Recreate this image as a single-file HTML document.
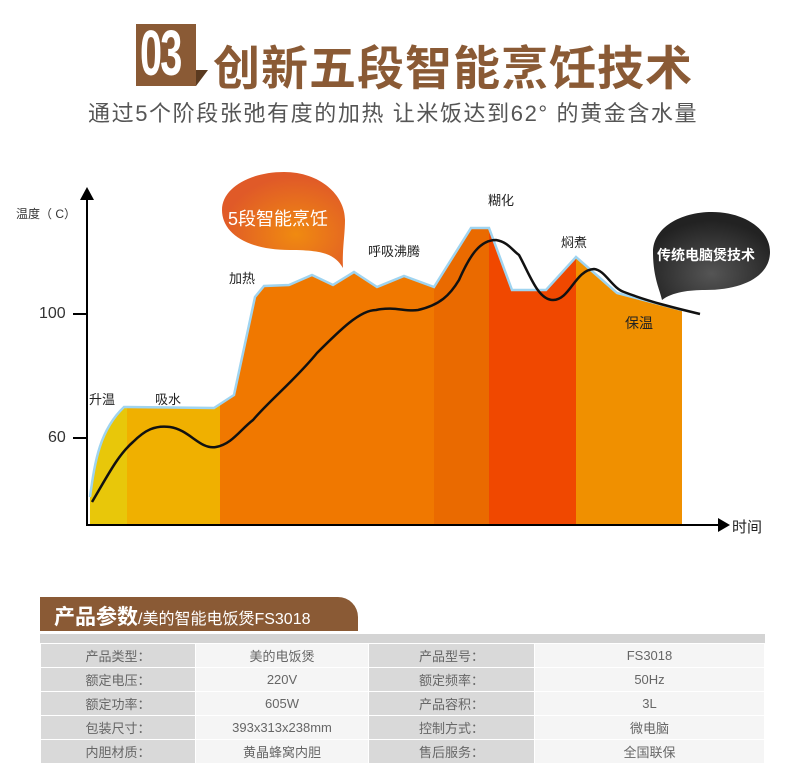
<!DOCTYPE html>
<html><head><meta charset="utf-8"><style>
body{margin:0;width:790px;height:781px;background:#fff;overflow:hidden;font-family:"Liberation Sans","Noto Sans CJK SC",sans-serif;position:relative}
.a{position:absolute;white-space:nowrap}
table{position:absolute;left:40px;top:643px;width:725px;border-collapse:collapse;table-layout:fixed}
td{height:23px;padding:0;text-align:center;font-size:13px;color:#666;border:1px solid #fff}
td.l{background:#d9d9d9}td.v{background:#f5f5f5}
</style></head><body>
<div class="a" style="left:136px;top:24px;width:60px;height:62px;background:#8a5a35"></div>
<div class="a" style="left:140px;top:18px;font-size:64px;line-height:70px;font-weight:bold;color:#fff;letter-spacing:-3px;transform:scaleX(0.62);transform-origin:left">03</div>
<div class="a" style="left:196px;top:70px;width:0;height:0;border-top:16px solid #5a3a20;border-right:12px solid transparent"></div>
<div class="a" style="left:213px;top:30px;font-size:47px;font-weight:bold;color:#8a5a35;letter-spacing:1px">创新五段智能烹饪技术</div>
<div class="a" style="left:88px;top:96px;font-size:22px;color:#555;letter-spacing:1.6px">通过5个阶段张弛有度的加热 让米饭达到62° 的黄金含水量</div>

<svg class="a" style="left:0;top:0" width="790" height="600">
<defs>
<radialGradient id="g1" cx="0.6" cy="0.65" r="0.6"><stop offset="0" stop-color="#f08a10"/><stop offset="1" stop-color="#e05a28"/></radialGradient>
<radialGradient id="g2" cx="0.5" cy="0.7" r="0.6"><stop offset="0" stop-color="#555"/><stop offset="1" stop-color="#222"/></radialGradient>
<clipPath id="c"><path d="M90,497 C95,460 100,430 124,407 L214,408 L234,395 L255,297 L264,286 L289,285 L312,275 L333,285 L354,272 L377,287 L404,276 L434,287 L471,228 L489,228 L512,290 L546,290 L576,257 L617,293 L682,310 L682,525 L90,525 Z"/></clipPath>
</defs>
<g clip-path="url(#c)">
<rect x="88" y="200" width="40" height="330" fill="#e8c70a"/>
<rect x="127" y="200" width="94" height="330" fill="#f0b000"/>
<rect x="220" y="200" width="215" height="330" fill="#f07800"/>
<rect x="434" y="200" width="56" height="330" fill="#ea6a00"/>
<rect x="489" y="200" width="88" height="330" fill="#f04800"/>
<rect x="576" y="200" width="110" height="330" fill="#f09000"/>
</g>
<path d="M90,497 C95,460 100,430 124,407 L214,408 L234,395 L255,297 L264,286 L289,285 L312,275 L333,285 L354,272 L377,287 L404,276 L434,287 L471,228 L489,228 L512,290 L546,290 L576,257 L617,293 L682,310" fill="none" stroke="#9fd4f0" stroke-width="2.5"/>
<path d="M92,502 C108,475 118,455 133,442 C145,430 155,425 170,427 C190,430 200,450 216,447 C232,444 240,430 253,420 C270,400 295,380 317,353 C340,330 360,310 376,310 C395,306 405,312 418,310 C440,305 450,295 459,280 C470,255 480,240 496,240 C508,242 512,250 519,255 C530,275 538,300 553,300 C570,300 575,270 594,269 C605,270 612,288 624,292 C650,302 675,308 700,314" fill="none" stroke="#111" stroke-width="2.5"/>
<line x1="87" y1="198" x2="87" y2="525" stroke="#000" stroke-width="2"/>
<polygon points="80,200 87,187 94,200" fill="#000"/>
<line x1="86" y1="525" x2="720" y2="525" stroke="#000" stroke-width="2"/>
<polygon points="718,518 730,525 718,532" fill="#000"/>
<line x1="73" y1="314" x2="87" y2="314" stroke="#000" stroke-width="2"/>
<line x1="73" y1="438" x2="87" y2="438" stroke="#000" stroke-width="2"/>
<path d="M284,172 C320,172 345,195 345,220 C345,235 342,250 343,268 C335,255 325,250 290,250 C245,250 222,232 222,210 C222,188 250,172 284,172 Z" fill="url(#g1)"/>
<path d="M712,212 C745,212 770,230 770,252 C770,275 745,290 705,290 C690,290 672,292 662,300 C660,290 653,278 653,252 C653,228 680,212 712,212 Z" fill="url(#g2)"/>
</svg>
<div class="a" style="left:228px;top:205px;font-size:18px;color:#fff">5段智能烹饪</div>
<div class="a" style="left:657px;top:245px;font-size:14px;font-weight:bold;color:#fff">传统电脑煲技术</div>
<div class="a" style="left:16px;top:205px;font-size:12px;color:#333">温度（ C）</div>
<div class="a" style="left:39px;top:305px;font-size:16px;color:#333">100</div>
<div class="a" style="left:48px;top:429px;font-size:16px;color:#333">60</div>
<div class="a" style="left:89px;top:389px;font-size:13px;color:#222">升温</div>
<div class="a" style="left:155px;top:389px;font-size:13px;color:#222">吸水</div>
<div class="a" style="left:229px;top:268px;font-size:13px;color:#222">加热</div>
<div class="a" style="left:368px;top:241px;font-size:13px;color:#222">呼吸沸腾</div>
<div class="a" style="left:488px;top:190px;font-size:13px;color:#222">糊化</div>
<div class="a" style="left:561px;top:232px;font-size:13px;color:#222">焖煮</div>
<div class="a" style="left:625px;top:313px;font-size:14px;color:#222">保温</div>
<div class="a" style="left:732px;top:516px;font-size:15px;color:#222">时间</div>

<div class="a" style="left:40px;top:597px;width:318px;height:34px;background:#8a5a35;border-radius:0 20px 0 0"></div>
<div class="a" style="left:54px;top:601px;font-size:21px;font-weight:bold;color:#fff">产品参数<span style="font-size:16px;font-weight:normal">/美的智能电饭煲FS3018</span></div>
<div class="a" style="left:40px;top:634px;width:725px;height:9px;background:#d4d4d4"></div>
<table>
<colgroup><col style="width:155px"><col style="width:173px"><col style="width:166px"><col></colgroup>
<tr><td class="l">产品类型：</td><td class="v">美的电饭煲</td><td class="l">产品型号：</td><td class="v">FS3018</td></tr>
<tr><td class="l">额定电压：</td><td class="v">220V</td><td class="l">额定频率：</td><td class="v">50Hz</td></tr>
<tr><td class="l">额定功率：</td><td class="v">605W</td><td class="l">产品容积：</td><td class="v">3L</td></tr>
<tr><td class="l">包装尺寸：</td><td class="v">393x313x238mm</td><td class="l">控制方式：</td><td class="v">微电脑</td></tr>
<tr><td class="l">内胆材质：</td><td class="v">黄晶蜂窝内胆</td><td class="l">售后服务：</td><td class="v">全国联保</td></tr>
</table>
</body></html>
